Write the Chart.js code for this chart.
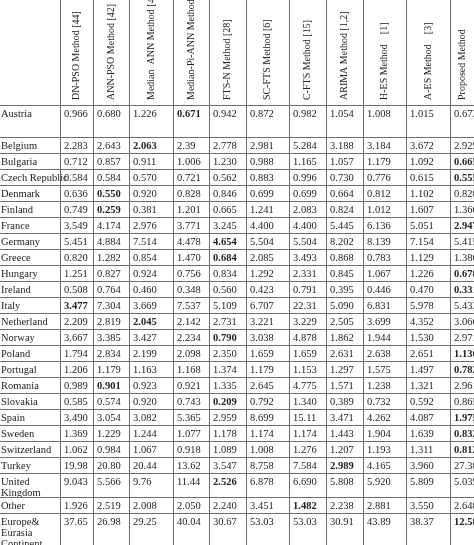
<!DOCTYPE html>
<html>
<head>
<meta charset="utf-8">
<script src="https://cdn.jsdelivr.net/npm/chart.js@4.4.0/dist/chart.umd.min.js"></script>
<style>
  html, body { margin: 0; padding: 0; background: #fff; }
  #wrap { width: 474px; height: 545px; position: relative; }
</style>
</head>
<body>
<div id="wrap"><canvas id="tableChart"></canvas></div>
<script>
const methods = [
  "DN-PSO Method [44]", "ANN-PSO Method [42]", "Median  ANN Method [43]",
  "Median-Pi-ANN Method [45]", "FTS-N Method [28]", "SC-FTS Method [6]",
  "C-FTS Method [15]", "ARIMA Method [1,2]", "H-ES Method    [1]",
  "A-ES Method    [3]", "Proposed Method"
];
const countries = [
  ["Austria"], ["Belgium"], ["Bulgaria"], ["Czech Republic"], ["Denmark"], ["Finland"],
  ["France"], ["Germany"], ["Greece"], ["Hungary"], ["Ireland"], ["Italy"],
  ["Netherland"], ["Norway"], ["Poland"], ["Portugal"], ["Romania"], ["Slovakia"],
  ["Spain"], ["Sweden"], ["Switzerland"], ["Turkey"], ["United", "Kingdom"],
  ["Other"], ["Europe&", "Eurasia", "Continent"]
];
const values = [
  ["0.966", "0.680", "1.226", "0.671", "0.942", "0.872", "0.982", "1.054", "1.008", "1.015", "0.673"],
  ["2.283", "2.643", "2.063", "2.39", "2.778", "2.981", "5.284", "3.188", "3.184", "3.672", "2.929"],
  ["0.712", "0.857", "0.911", "1.006", "1.230", "0.988", "1.165", "1.057", "1.179", "1.092", "0.665"],
  ["0.584", "0.584", "0.570", "0.721", "0.562", "0.883", "0.996", "0.730", "0.776", "0.615", "0.555"],
  ["0.636", "0.550", "0.920", "0.828", "0.846", "0.699", "0.699", "0.664", "0.812", "1.102", "0.828"],
  ["0.749", "0.259", "0.381", "1.201", "0.665", "1.241", "2.083", "0.824", "1.012", "1.607", "1.360"],
  ["3.549", "4.174", "2.976", "3.771", "3.245", "4.400", "4.400", "5.445", "6.136", "5.051", "2.947"],
  ["5.451", "4.884", "7.514", "4.478", "4.654", "5.504", "5.504", "8.202", "8.139", "7.154", "5.415"],
  ["0.820", "1.282", "0.854", "1.470", "0.684", "2.085", "3.493", "0.868", "0.783", "1.129", "1.380"],
  ["1.251", "0.827", "0.924", "0.756", "0.834", "1.292", "2.331", "0.845", "1.067", "1.226", "0.678"],
  ["0.508", "0.764", "0.460", "0.348", "0.560", "0.423", "0.791", "0.395", "0.446", "0.470", "0.331"],
  ["3.477", "7.304", "3.669", "7.537", "5.109", "6.707", "22.31", "5.090", "6.831", "5.978", "5.433"],
  ["2.209", "2.819", "2.045", "2.142", "2.731", "3.221", "3.229", "2.505", "3.699", "4.352", "3.066"],
  ["3.667", "3.385", "3.427", "2.234", "0.790", "3.038", "4.878", "1.862", "1.944", "1.530", "2.971"],
  ["1.794", "2.834", "2.199", "2.098", "2.350", "1.659", "1.659", "2.631", "2.638", "2.651", "1.136"],
  ["1.206", "1.179", "1.163", "1.168", "1.374", "1.179", "1.153", "1.297", "1.575", "1.497", "0.782"],
  ["0.989", "0.901", "0.923", "0.921", "1.335", "2.645", "4.775", "1.571", "1.238", "1.321", "2.961"],
  ["0.585", "0.574", "0.920", "0.743", "0.209", "0.792", "1.340", "0.389", "0.732", "0.592", "0.865"],
  ["3.490", "3.054", "3.082", "5.365", "2.959", "8.699", "15.11", "3.471", "4.262", "4.087", "1.975"],
  ["1.369", "1.229", "1.244", "1.077", "1.178", "1.174", "1.174", "1.443", "1.904", "1.639", "0.832"],
  ["1.062", "0.984", "1.067", "0.918", "1.089", "1.008", "1.276", "1.207", "1.193", "1.311", "0.812"],
  ["19.98", "20.80", "20.44", "13.62", "3.547", "8.758", "7.584", "2.989", "4.165", "3.960", "27.38"],
  ["9.043", "5.566", "9.76", "11.44", "2.526", "6.878", "6.690", "5.808", "5.920", "5.809", "5.039"],
  ["1.926", "2.519", "2.008", "2.050", "2.240", "3.451", "1.482", "2.238", "2.881", "3.550", "2.648"],
  ["37.65", "26.98", "29.25", "40.04", "30.67", "53.03", "53.03", "30.91", "43.89", "38.37", "12.58"]
];
// column index printed in bold for each row
const boldCol = [3, 2, 10, 10, 1, 1, 10, 4, 4, 10, 10, 0, 2, 4, 10, 10, 1, 4, 10, 10, 10, 7, 4, 6, 10];

// layout (in scale units = px)
const colEdges = [0, 60, 93, 129, 173, 209, 246, 289, 326, 363, 406, 450, 474];
const headerBottom = 105;
const rowHeights = countries.map((c, i) => i === 0 ? 32 : (c.length === 2 ? 24 : (c.length === 3 ? 40 : 16)));

const tablePlugin = {
  id: "tablePlugin",
  afterDraw(chart) {
    const c = chart.ctx, xs = chart.scales.x, ys = chart.scales.y;
    const X = v => xs.getPixelForValue(v), Y = v => ys.getPixelForValue(v);
    c.save();
    c.strokeStyle = "#6e6e6e";
    c.lineWidth = 1;
    // vertical lines
    colEdges.slice(1, -1).forEach(e => {
      c.beginPath(); c.moveTo(X(e) + 0.5, Y(0)); c.lineTo(X(e) + 0.5, Y(545)); c.stroke();
    });
    // header
    c.fillStyle = "#222";
    c.font = "10px 'Liberation Serif'";
    c.textBaseline = "middle";
    c.textAlign = "left";
    methods.forEach((m, j) => {
      const cx = (colEdges[j + 1] + colEdges[j + 2]) / 2;
      c.save();
      c.translate(X(cx), Y(headerBottom - 5));
      c.rotate(-Math.PI / 2);
      c.fillText(m, 0, 0);
      c.restore();
    });
    // rows
    let top = headerBottom;
    c.font = "10.5px 'Liberation Serif'";
    c.textBaseline = "top";
    countries.forEach((name, i) => {
      c.beginPath(); c.moveTo(X(0), Y(top) + 0.5); c.lineTo(X(474), Y(top) + 0.5); c.stroke();
      c.font = "10.5px 'Liberation Serif'";
      name.forEach((ln, k) => c.fillText(ln, X(1), Y(top + 4 + k * 11)));
      values[i].forEach((v, j) => {
        c.font = (boldCol[i] === j ? "bold " : "") + "10.5px 'Liberation Serif'";
        c.fillText(v, X(colEdges[j + 1] + 4), Y(top + 4));
      });
      top += rowHeights[i];
    });
    c.restore();
  }
};

new Chart(document.getElementById("tableChart"), {
  type: "scatter",
  data: { datasets: [{ data: [] }] },
  options: {
    responsive: true,
    maintainAspectRatio: false,
    animation: false,
    layout: { padding: 0 },
    plugins: { legend: { display: false }, tooltip: { enabled: false } },
    scales: {
      x: { type: "linear", min: 0, max: 474, display: false },
      y: { type: "linear", min: 0, max: 545, reverse: true, display: false }
    }
  },
  plugins: [tablePlugin]
});
</script>
</body>
</html>
